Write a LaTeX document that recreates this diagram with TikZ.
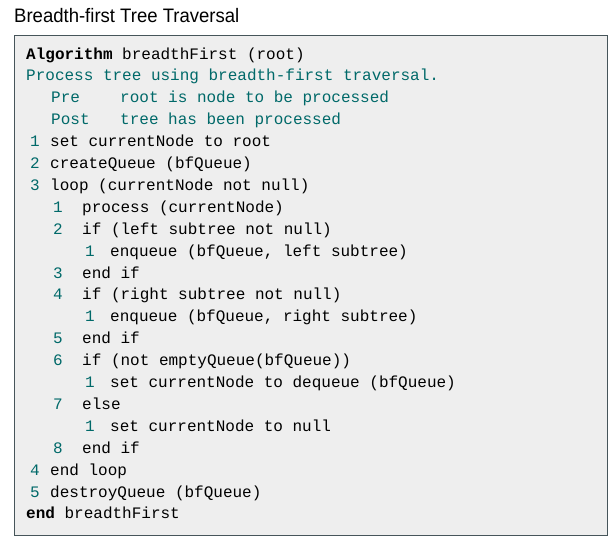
\documentclass[tikz,border=0pt]{standalone}
\usepackage{fontspec}
\setmainfont{Liberation Sans}
\setmonofont{Liberation Mono}
\definecolor{teal1}{RGB}{0,105,105}
\definecolor{bg}{RGB}{238,238,238}
\definecolor{frame}{RGB}{70,85,90}
\begin{document}
\begin{tikzpicture}[x=1pt,y=-1pt,
  ln/.style={anchor=base west,inner sep=0pt,font=\ttfamily\fontsize{16}{18}\selectfont},
  num/.style={ln,text=teal1}]
\useasboundingbox (0,0) rectangle (615,544);
\node[anchor=base west,inner sep=0pt,font=\fontsize{19.5}{22}\selectfont\addfontfeature{FakeStretch=0.95}] (title) at (14,22) {Breadth-first Tree Traversal};
\node[draw=frame,line width=1pt,fill=bg,minimum width=593pt,minimum height=500pt,anchor=north west,inner sep=0pt] (box) at (14,35) {};
\def\B#1{\fpeval{59+21.9*#1}}
\node[ln] (l0) at (26,\B{0}) {\textbf{Algorithm} breadthFirst (root)};
\node[ln,text=teal1] (l1) at (26,\B{1}) {Process tree using breadth-first traversal.};
\node[ln,text=teal1] (l2a) at (51,\B{2}) {Pre};
\node[ln,text=teal1] (l2b) at (120,\B{2}) {root is node to be processed};
\node[ln,text=teal1] (l3a) at (51,\B{3}) {Post};
\node[ln,text=teal1] (l3b) at (120,\B{3}) {tree has been processed};
% level 1
\foreach \n/\i/\t in {1/4/{set currentNode to root},2/5/{createQueue (bfQueue)},3/6/{loop (currentNode not null)},4/19/{end loop},5/20/{destroyQueue (bfQueue)}}{
  \node[num] (n\i) at (30,\B{\i}) {\n};
  \node[ln] (t\i) at (50,\B{\i}) {\t};}
% level 2
\foreach \n/\i/\t in {1/7/{process (currentNode)},2/8/{if (left subtree not null)},3/10/{end if},4/11/{if (right subtree not null)},5/13/{end if},6/14/{if (not emptyQueue(bfQueue))},7/16/{else},8/18/{end if}}{
  \node[num] (n\i) at (53,\B{\i}) {\n};
  \node[ln] (t\i) at (82,\B{\i}) {\t};}
% level 3
\foreach \i/\t in {9/{enqueue (bfQueue, left subtree)},12/{enqueue (bfQueue, right subtree)},15/{set currentNode to dequeue (bfQueue)},17/{set currentNode to null}}{
  \node[num] (n\i) at (85,\B{\i}) {1};
  \node[ln] (t\i) at (110,\B{\i}) {\t};}
\node[ln] (l21) at (26,\B{21}) {\textbf{end} breadthFirst};
\end{tikzpicture}
\end{document}
